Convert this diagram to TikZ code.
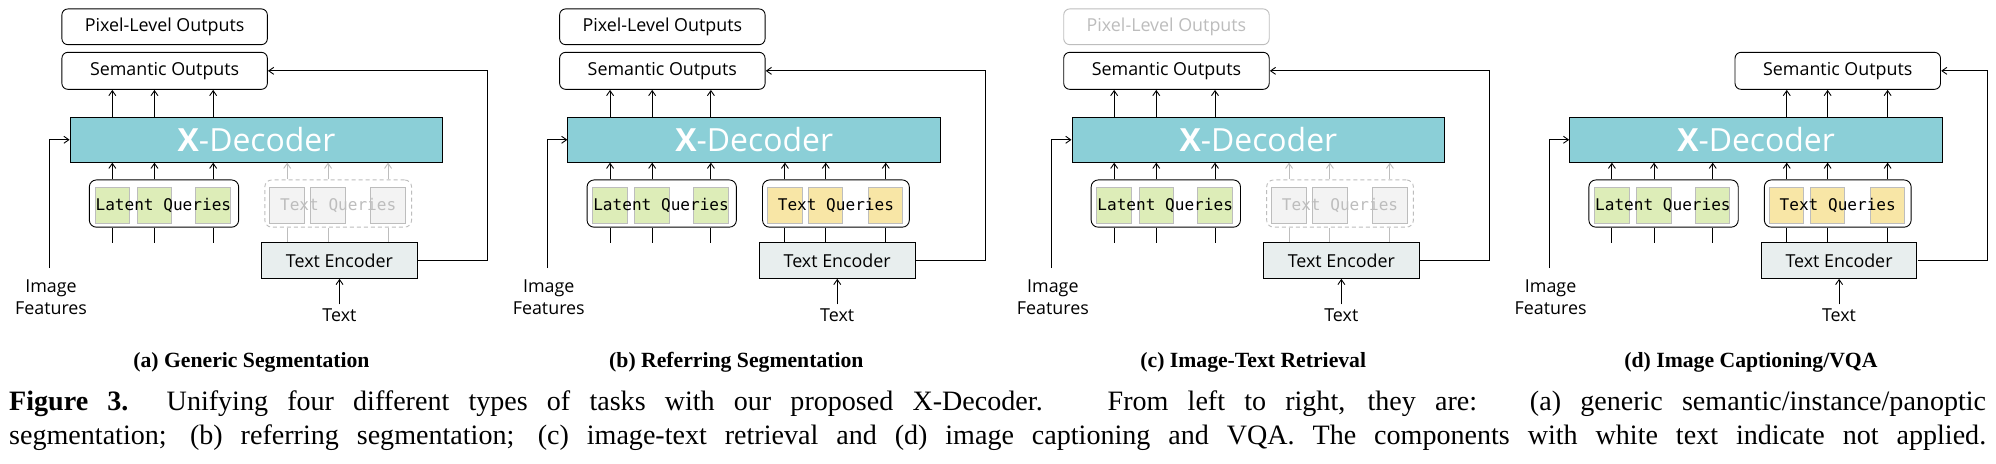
\documentclass[tikz,border=0pt]{standalone}
\usepackage{fontspec}
\setmainfont{Liberation Serif}
\newfontfamily\dsans{Open Sans}
\newfontfamily\dmono{DejaVu Sans Mono}
\usetikzlibrary{arrows.meta}
\definecolor{dec}{HTML}{8BCFD7}
\definecolor{enc}{HTML}{E8EEEE}
\definecolor{lat}{HTML}{DDEDB8}
\definecolor{yel}{HTML}{F8E6A6}
\definecolor{gfill}{HTML}{F3F3F3}
\definecolor{gline}{HTML}{BDBDBD}
\tikzset{
 ar/.style={-{Straight Barb[length=5pt,width=7pt]},line width=0.9pt},
 ln/.style={line width=0.9pt},
 outbox/.style={draw,rounded corners=6pt,line width=0.9pt,font=\dsans\fontsize{14}{16}\selectfont,inner sep=0pt},
 sq/.style={draw=gline,line width=1pt,minimum width=27pt,minimum height=28pt,inner sep=0pt},
 qbox/.style={draw,rounded corners=7pt,line width=0.9pt},
 mono/.style={font=\dmono\fontsize{12.6}{14}\selectfont},
 lab/.style={font=\dsans\fontsize{14}{17}\selectfont,align=center},
}
\newcommand\xpanel[4]{%
\begin{scope}[xshift=#1pt]
 \node[draw,fill=dec,line width=0.9pt,minimum width=292pt,minimum height=35pt,inner sep=0pt,text=white,font=\dsans\fontsize{25}{28}\selectfont] (#2dec) at (201,109.5) {\textbf{X}-Decoder};
 \ifcase#3\or
  \node[outbox,minimum width=161pt,minimum height=28pt] (#2pix) at (129,21) {Pixel-Level Outputs};
 \or
  \node[outbox,draw=gline,text=gline,minimum width=161pt,minimum height=28pt] (#2pix) at (129,21) {Pixel-Level Outputs};
 \fi
 \node[qbox,minimum width=117pt,minimum height=37pt] (#2lq) at (128.5,159.5) {};
 \node[sq,fill=lat] (#2l1) at (88,161) {};
 \node[sq,fill=lat] (#2l2) at (121,161) {};
 \node[sq,fill=lat] (#2l3) at (167,161) {};
 \node[mono] at (128,161) {Latent Queries};
 \foreach \i in {1,2,3}{
  \draw[ar] (#2l\i|-#2lq.north) -- (#2l\i|-#2dec.south);
  \draw[ln] (#2l\i|-#2lq.south) -- ++(0,12);
 }
 \node[draw,fill=enc,line width=0.9pt,minimum width=122pt,minimum height=28pt,inner sep=0pt,font=\dsans\fontsize{14}{16}\selectfont] (#2enc) at (266,204) {Text Encoder};
 \node[lab] (#2txt) at (266,247) {Text};
 \draw[ar] (#2txt.north) -- (#2enc.south);
 \ifnum#4=0
  \node[qbox,draw=gline,dashed,dash pattern=on 4pt off 3pt,minimum width=115pt,minimum height=37pt] (#2tq) at (265,159.5) {};
  \node[sq,fill=gfill] (#2t1) at (225,161) {};
  \node[sq,fill=gfill] (#2t2) at (257,161) {};
  \node[sq,fill=gfill] (#2t3) at (304,161) {};
  \node[mono,text=gline] at (265,161) {Text Queries};
  \foreach \i in {1,2,3}{
   \draw[ar,draw=gline] (#2t\i|-#2tq.north) -- (#2t\i|-#2dec.south);
   \draw[ln,draw=gline] (#2t\i|-#2enc.north) -- (#2t\i|-#2tq.south);
  }
 \else
  \node[qbox,minimum width=115pt,minimum height=37pt] (#2tq) at (265,159.5) {};
  \node[sq,fill=yel] (#2t1) at (225,161) {};
  \node[sq,fill=yel] (#2t2) at (257,161) {};
  \node[sq,fill=yel] (#2t3) at (304,161) {};
  \node[mono] at (265,161) {Text Queries};
  \foreach \i in {1,2,3}{
   \draw[ar] (#2t\i|-#2tq.north) -- (#2t\i|-#2dec.south);
   \draw[ln] (#2t\i|-#2enc.north) -- (#2t\i|-#2tq.south);
  }
 \fi
 \ifnum#4=2
  \node[outbox,minimum width=161pt,minimum height=29pt] (#2sem) at (265,55.5) {Semantic Outputs};
  \foreach \i in {1,2,3}{\draw[ar] (#2t\i|-#2dec.north) -- (#2t\i|-#2sem.south);}
 \else
  \node[outbox,minimum width=161pt,minimum height=29pt] (#2sem) at (129,55.5) {Semantic Outputs};
  \foreach \i in {1,2,3}{\draw[ar] (#2l\i|-#2dec.north) -- (#2l\i|-#2sem.south);}
 \fi
 \coordinate (#2fb) at (382,0);
 \draw[ar] (#2enc.east) -| (#2fb|-#2sem.east) -- (#2sem.east);
 \node[lab,align=center,anchor=north] (#2img) at (40,216) {Image\\Features};
 \coordinate (#2ic) at (39,210);
 \draw[ar] (#2ic) |- (#2dec.west);
\end{scope}}
\begin{document}
\begin{tikzpicture}[x=1pt,y=-1pt,scale=1.2763,every node/.append style={transform shape}]
\useasboundingbox (0,0) rectangle (1564,363.5);
\fill[white] (0,0) rectangle (1564,363.5);
\xpanel{0}{a}{1}{0}
\xpanel{390}{b}{1}{1}
\xpanel{785}{c}{2}{0}
\xpanel{1175}{d}{0}{2}
\tikzset{sub/.style={font=\bfseries\fontsize{17}{20}\selectfont}}
\node[sub] (ca) at (197,284) {(a) Generic Segmentation};
\node[sub] (cb) at (577,284) {(b) Referring Segmentation};
\node[sub] (cc) at (982,284) {(c) Image-Text Retrieval};
\node[sub] (cd) at (1372,284) {(d) Image Captioning/VQA};
\node[anchor=west,inner sep=0pt,font=\fontsize{22}{26}\selectfont] (cap1) at (7,316) {\makebox[1549pt][s]{\textbf{Figure 3.}\ \ Unifying four different types of tasks with our proposed X-Decoder. \ From left to right, they are: \ (a) generic semantic/instance/panoptic}};
\node[anchor=west,inner sep=0pt,font=\fontsize{22}{26}\selectfont] (cap2) at (7,343) {\makebox[1549pt][s]{segmentation; (b) referring segmentation; (c) image-text retrieval and (d) image captioning and VQA. The components with white text indicate not applied.}};
\end{tikzpicture}
\end{document}
